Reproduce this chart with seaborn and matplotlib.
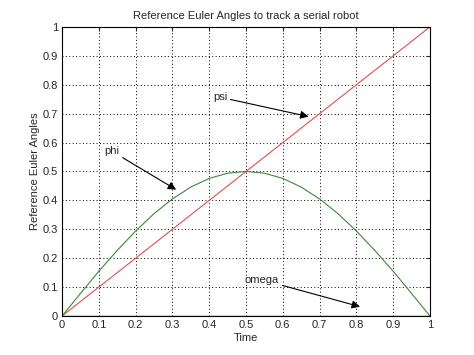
import matplotlib
matplotlib.use("Agg")
import matplotlib.pyplot as plt
import seaborn as sns
import pandas as pd

# values
time = [0.0, 0.05, 0.1, 0.15, 0.2, 0.25, 0.3, 0.35, 0.4, 0.45, 0.5,
        0.55, 0.6, 0.65, 0.7, 0.75, 0.8, 0.85, 0.9, 0.95, 1.0]
psi = [0.0, 0.05, 0.1, 0.15, 0.2, 0.25, 0.3, 0.35, 0.4, 0.45, 0.5,
       0.55, 0.6, 0.65, 0.7, 0.75, 0.8, 0.85, 0.9, 0.95, 1.0]
phi = [0.0, 0.078, 0.155, 0.227, 0.294, 0.354, 0.405, 0.446, 0.476, 0.494, 0.5,
       0.494, 0.476, 0.446, 0.405, 0.354, 0.294, 0.227, 0.155, 0.078, 0.0]
omega = [0.0] * len(time)

ticks = [0, 0.1, 0.2, 0.3, 0.4, 0.5, 0.6, 0.7, 0.8, 0.9, 1]
tick_labels = ['0', '0.1', '0.2', '0.3', '0.4', '0.5', '0.6', '0.7', '0.8', '0.9', '1']

df = pd.DataFrame({'Time': time, 'psi': psi, 'phi': phi, 'omega': omega})

sns.set_style("white")
plt.rcParams['font.family'] = ['Liberation Sans', 'DejaVu Sans']
plt.rcParams['font.size'] = 8

fig = plt.figure(figsize=(4.74, 3.55), dpi=100)
ax = fig.add_axes([0.131, 0.110, 0.776, 0.814])

sns.lineplot(data=df, x='Time', y='psi', ax=ax, color='#e05050', linewidth=0.8)
sns.lineplot(data=df, x='Time', y='phi', ax=ax, color='#3a8a3a', linewidth=0.8)
sns.lineplot(data=df, x='Time', y='omega', ax=ax, color='#3a3aa8', linewidth=1.0)

ax.set_xlim(0, 1)
ax.set_ylim(0, 1)
ax.set_xticks(ticks)
ax.set_xticklabels(tick_labels)
ax.set_yticks(ticks)
ax.set_yticklabels(tick_labels)
ax.grid(True, linestyle=(0, (1, 2.5)), color='black', linewidth=0.7)
ax.tick_params(direction='in', length=3, top=True, right=True, labelsize=8, pad=3)
for s in ax.spines.values():
    s.set_color('black')
    s.set_linewidth(0.8)

ax.set_title('Reference Euler Angles to track a serial robot', fontsize=8)
ax.set_xlabel('Time', fontsize=8, labelpad=2)
ax.set_ylabel('Reference Euler Angles', fontsize=8, labelpad=2)

arrow = dict(arrowstyle='-|>', color='black', lw=0.8, mutation_scale=12, shrinkA=0, shrinkB=0)
ax.annotate('psi', xy=(0.67, 0.69), xytext=(0.41, 0.757), fontsize=8,
            va='center', arrowprops=arrow)
ax.annotate('phi', xy=(0.31, 0.437), xytext=(0.115, 0.57), fontsize=8,
            va='center', arrowprops=arrow)
ax.annotate('omega', xy=(0.81, 0.032), xytext=(0.497, 0.125), fontsize=8,
            va='center', arrowprops=arrow)

fig.savefig('out.png', dpi=100, facecolor='white')
